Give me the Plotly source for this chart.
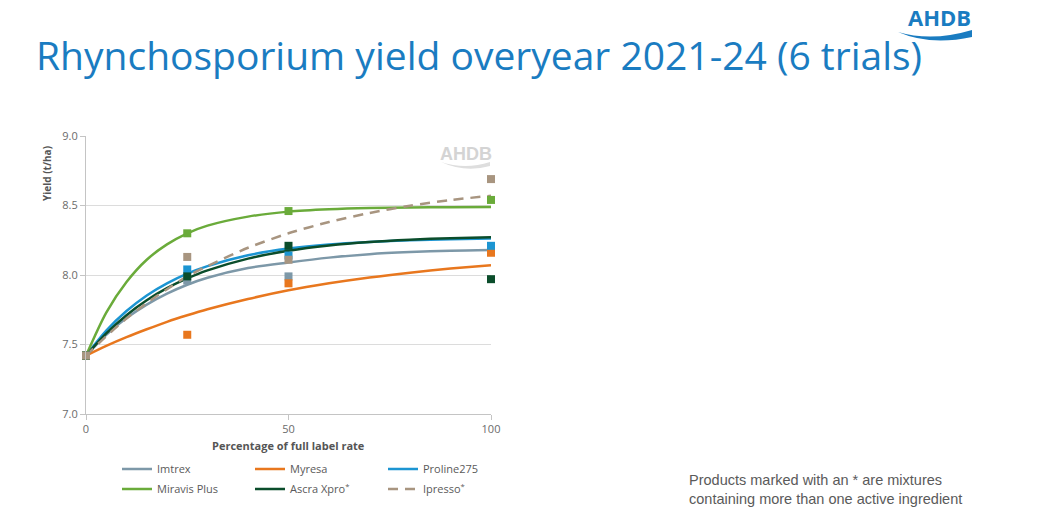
import plotly.graph_objects as go

# ---------------- data ----------------
x_curve = [0, 5, 10, 15, 20, 25, 30, 40, 50, 60, 70, 80, 90, 100]
imtrex_fit = [7.42, 7.57, 7.69, 7.787, 7.866, 7.93, 7.98, 8.05, 8.09, 8.125, 8.15, 8.165, 8.175, 8.18]
myresa_fit = [7.42, 7.49, 7.553, 7.61, 7.663, 7.71, 7.753, 7.827, 7.89, 7.94, 7.982, 8.017, 8.046, 8.07]
proline_fit = [7.42, 7.60, 7.741, 7.853, 7.94, 8.01, 8.064, 8.142, 8.19, 8.22, 8.238, 8.25, 8.257, 8.262]
miravis_fit = [7.42, 7.73, 7.95, 8.11, 8.22, 8.30, 8.355, 8.42, 8.456, 8.473, 8.482, 8.486, 8.488, 8.49]
ascra_fit = [7.42, 7.58, 7.711, 7.818, 7.905, 7.975, 8.033, 8.118, 8.175, 8.213, 8.238, 8.254, 8.265, 8.272]
ipresso_fit = [7.42, 7.56, 7.687, 7.798, 7.898, 7.99, 8.064, 8.196, 8.30, 8.381, 8.446, 8.498, 8.539, 8.57]

x_obs = [0, 25, 50, 100]
imtrex_obs = [7.42, 7.96, 7.99, 8.19]
myresa_obs = [7.42, 7.57, 7.94, 8.16]
proline_obs = [7.42, 8.04, 8.14, 8.21]
miravis_obs = [7.42, 8.30, 8.46, 8.54]
ascra_obs = [7.42, 7.99, 8.21, 7.97]
ipresso_obs = [7.42, 8.13, 8.11, 8.69]

names = ["Imtrex", "Myresa", "Proline275", "Miravis Plus", "Ascra Xpro<sup>*</sup>", "Ipresso<sup>*</sup>"]
fits = [imtrex_fit, myresa_fit, proline_fit, miravis_fit, ascra_fit, ipresso_fit]
obs = [imtrex_obs, myresa_obs, proline_obs, miravis_obs, ascra_obs, ipresso_obs]
colors = ["#7d98a8", "#e8771e", "#1c95d2", "#6aab3a", "#0b4d2b", "#a89580"]
dashes = ["solid", "solid", "solid", "solid", "solid", "10px,7px"]

# ---------------- layout helpers (pixel -> paper) ----------------
W, H = 1052, 532
PL, PR, PT, PB = 86, 491, 136, 414


def fx(p):
    return (p - PL) / (PR - PL)


def fy(p):
    return (PB - p) / (PB - PT)


legend_ids = ["legend", "legend2", "legend3", "legend4", "legend5", "legend6"]
legend_cols = [117, 250, 383, 117, 250, 383]
legend_rows = [469, 469, 469, 489, 489, 489]

fig = go.Figure()

for name, f, c, d, lg in zip(names, fits, colors, dashes, legend_ids):
    fig.add_trace(go.Scatter(
        x=x_curve, y=f, mode="lines", name=name, legend=lg,
        line=dict(color=c, width=2.5, dash=d, shape="spline", smoothing=0.8),
        hoverinfo="skip",
    ))

for name, o, c in zip(names, obs, colors):
    fig.add_trace(go.Scatter(
        x=x_obs, y=o, mode="markers", name=name, showlegend=False,
        marker=dict(symbol="square", size=8, color=c),
        cliponaxis=False,
    ))

axis_font = dict(family="Open Sans, Noto Sans, sans-serif", size=11, color="#6b6b6b")

fig.update_xaxes(
    range=[0, 100], tickvals=[0, 50, 100], showgrid=False, zeroline=False,
    showline=True, linecolor="#c4c4c4", linewidth=1,
    ticks="outside", ticklen=5, tickcolor="#c4c4c4", tickfont=axis_font,
)
fig.update_yaxes(
    range=[7, 9], dtick=0.5, tickformat=".1f", showgrid=True, gridcolor="#dcdcdc",
    zeroline=False, showline=True, linecolor="#c4c4c4", linewidth=1,
    ticks="outside", ticklen=5, tickcolor="#c4c4c4", tickfont=axis_font,
)

legend_common = dict(
    orientation="h", xanchor="left", yanchor="middle",
    font=dict(family="Open Sans, Noto Sans, sans-serif", size=11, color="#5a5a5a"),
    itemwidth=30, bgcolor="rgba(0,0,0,0)",
)
legends = {lg: dict(x=fx(cx), y=fy(ry), **legend_common)
           for lg, cx, ry in zip(legend_ids, legend_cols, legend_rows)}

fig.update_layout(
    width=W, height=H,
    margin=dict(l=PL, r=W - PR, t=PT, b=H - PB, pad=0),
    paper_bgcolor="white", plot_bgcolor="white",
    **legends,
    annotations=[
        dict(text="Rhynchosporium yield overyear 2021-24 (6 trials)",
             xref="paper", yref="paper", x=fx(34), y=fy(54), xanchor="left", yanchor="middle",
             showarrow=False,
             font=dict(family="Open Sans, sans-serif", size=39, color="#1a7cc1")),
        dict(text="<b>AHDB</b>", xref="paper", yref="paper", x=fx(939), y=fy(17),
             xanchor="center", yanchor="middle", showarrow=False,
             font=dict(family="Open Sans, sans-serif", size=22, color="#1a7cc1")),
        dict(text="<b>AHDB</b>", xref="paper", yref="paper", x=fx(466), y=fy(154),
             xanchor="center", yanchor="middle", showarrow=False,
             font=dict(family="Liberation Sans, Open Sans, sans-serif", size=18, color="#d4d4d4")),
        dict(text="<b>Yield (t/ha)</b>", xref="paper", yref="paper", x=fx(47), y=fy(174),
             xanchor="center", yanchor="middle", textangle=-90, showarrow=False,
             font=dict(family="Open Sans, Noto Sans, sans-serif", size=10, color="#555555")),
        dict(text="<b>Percentage of full label rate</b>", xref="paper", yref="paper",
             x=fx(288), y=fy(445), xanchor="center", yanchor="middle", showarrow=False,
             font=dict(family="Open Sans, Noto Sans, sans-serif", size=11, color="#555555")),
        dict(text="Products marked with an * are mixtures<br>containing more than one active ingredient",
             xref="paper", yref="paper", x=fx(687), y=fy(470), xanchor="left", yanchor="top",
             align="left", showarrow=False,
             font=dict(family="Liberation Sans, Arial, sans-serif", size=14.5, color="#5a5a5a")),
    ],
    shapes=[
        # AHDB logo swoosh (top right)
        dict(type="path", xref="paper", yref="paper",
             path=f"M {fx(898)},{fy(32)} Q {fx(932)},{fy(42)} {fx(972)},{fy(30)} "
                  f"L {fx(972)},{fy(37)} Q {fx(930)},{fy(46)} {fx(898)},{fy(32)} Z",
             fillcolor="#1a7cc1", line=dict(width=0)),
        # watermark swoosh inside plot
        dict(type="path", xref="paper", yref="paper",
             path=f"M {fx(441)},{fy(162)} Q {fx(465)},{fy(170)} {fx(490)},{fy(162)} "
                  f"L {fx(490)},{fy(166)} Q {fx(465)},{fy(173)} {fx(441)},{fy(162)} Z",
             fillcolor="#dedede", line=dict(width=0)),
    ],
)

fig.write_html("out.html")
